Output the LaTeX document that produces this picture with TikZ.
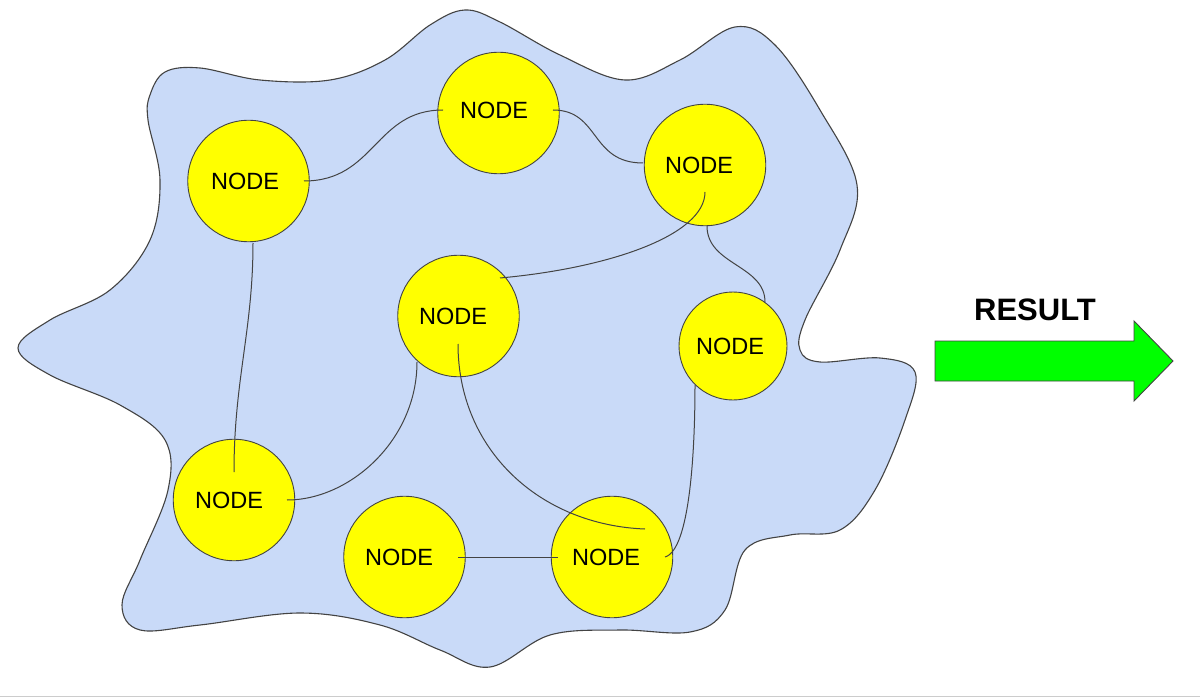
\documentclass[tikz,border=0pt]{standalone}
\usepackage{fontspec}
\setmainfont{Liberation Sans}
\definecolor{blobfill}{HTML}{C9DAF8}
\definecolor{lineink}{HTML}{434343}
\definecolor{nodefill}{HTML}{FFFF00}
\definecolor{arrowfill}{HTML}{00FF00}
\tikzset{
  netnode/.style={circle,draw=lineink,line width=0.9pt,fill=nodefill,minimum size=#1,inner sep=0pt},
  nodetext/.style={inner sep=0pt,font=\fontsize{23.5pt}{26pt}\selectfont},
  link/.style={draw=lineink,line width=1pt}
}
\begin{document}
\begin{tikzpicture}[x=1pt,y=-1pt]
\useasboundingbox (0,0) rectangle (1200,698);
\fill[white] (0,0) rectangle (1200,698);
\draw[draw=lineink,line width=1.1pt,fill=blobfill] plot[smooth cycle,tension=0.6] coordinates {
(150,95)(165,72)(200,68)(260,80)(330,80)(385,60)(430,25)(465,10)(500,22)(560,55)(625,80)(680,60)(735,27)(775,45)(820,110)(857,185)(840,250)(805,320)(800,350)(820,362)(880,358)(915,372)(905,420)(875,490)(840,530)(790,535)(745,550)(725,610)(690,632)(620,630)(550,635)(490,667)(440,650)(380,625)(300,613)(200,625)(140,630)(122,605)(140,560)(168,490)(165,440)(120,405)(50,375)(18,348)(50,320)(110,290)(150,240)(160,180)(148,120)};
\node[netnode=121.5pt] (a) at (248.5,181) {};
\node[netnode=121.5pt] (b) at (498.5,113) {};
\node[netnode=121.5pt] (c) at (705,165) {};
\node[netnode=121.5pt] (d) at (458.5,316) {};
\node[netnode=108pt] (e) at (733,346) {};
\node[netnode=121.5pt] (f) at (234,500) {};
\node[netnode=121.5pt] (g) at (404.5,557) {};
\node[netnode=121.5pt] (h) at (612,557) {};
\node[nodetext] (ta) at (245,181) {NODE};
\node[nodetext] (tb) at (494,110) {NODE};
\node[nodetext] (tc) at (699,165) {NODE};
\node[nodetext] (td) at (453,316) {NODE};
\node[nodetext] (te) at (730,346) {NODE};
\node[nodetext] (tf) at (229,500) {NODE};
\node[nodetext] (tg) at (399,557) {NODE};
\node[nodetext] (th) at (606,557) {NODE};
\coordinate (a1) at (304,181);
\coordinate (b1) at (443,110);
\coordinate (b2) at (553,110);
\coordinate (c1) at (643,163);
\coordinate (c2) at (705,192);
\coordinate (c3) at (707,226);
\coordinate (d1) at (500,278);
\coordinate (d2) at (458,344);
\coordinate (d3) at (417,362);
\coordinate (e1) at (765,302);
\coordinate (e2) at (695,385);
\coordinate (f1) at (234,472);
\coordinate (f2) at (287,500);
\coordinate (a2) at (253,243);
\coordinate (g1) at (458,557);
\coordinate (h1) at (558,557);
\coordinate (h2) at (645,529);
\coordinate (h3) at (665,557);
\draw[link] (a1) .. controls (375,181) and (375,110) .. (b1);
\draw[link] (b2) .. controls (600,110) and (590,163) .. (c1);
\draw[link] (c2) .. controls (705,235) and (610,268) .. (d1);
\draw[link] (c3) .. controls (707,265) and (765,265) .. (e1);
\draw[link] (a2) .. controls (253,330) and (234,380) .. (f1);
\draw[link] (d3) .. controls (417,440) and (350,500) .. (f2);
\draw[link] (d2) .. controls (458,450) and (540,525) .. (h2);
\draw[link] (e2) .. controls (695,450) and (690,550) .. (h3);
\draw[link,line width=0.8pt] (g1) -- (h1);
\node[inner sep=0pt,font=\bfseries\fontsize{31pt}{33pt}\selectfont] (res) at (1035,310) {RESULT};
\draw[draw=lineink,line width=0.9pt,fill=arrowfill] (935,341) -- (1134,341) -- (1134,321) -- (1173,361) -- (1134,401) -- (1134,381) -- (935,381) -- cycle;
\draw[draw=black!20,line width=1.5pt] (0,696.5) -- (1200,696.5);
\end{tikzpicture}
\end{document}
